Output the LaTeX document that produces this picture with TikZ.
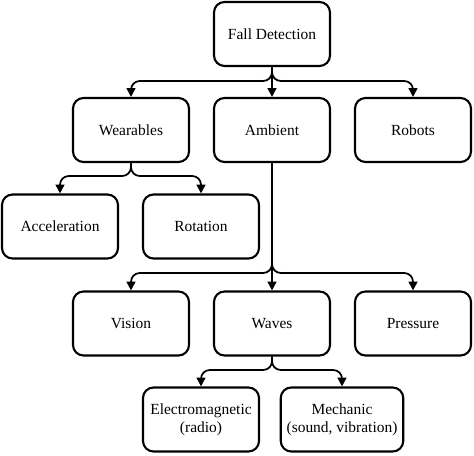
\documentclass[tikz,border=0pt]{standalone}
\usepackage{fontspec}
\setmainfont{Liberation Serif}
\usepackage{tikz}
\usetikzlibrary{arrows.meta}
\tikzset{
  box/.style={draw=black, line width=1.2pt, rounded corners=6pt, minimum width=2.32cm,
    minimum height=1.28cm, align=center, font=\fontsize{8.8}{10}\selectfont},
  arr/.style={draw=black, line width=1pt, rounded corners=5pt, -{Triangle[length=5pt,width=5pt]}},
}
\begin{document}
\begin{tikzpicture}
  \useasboundingbox (0,0) rectangle (9.48,9.1);
  % boxes
  \node[box] (fall) at (5.44,8.42) {Fall Detection};
  \node[box] (wear) at (2.62,6.5) {Wearables};
  \node[box] (amb) at (5.44,6.5) {Ambient};
  \node[box] (rob) at (8.26,6.5) {Robots};
  \node[box] (acc) at (1.2,4.57) {Acceleration};
  \node[box] (rot) at (4.02,4.57) {Rotation};
  \node[box] (vis) at (2.62,2.63) {Vision};
  \node[box] (wav) at (5.44,2.63) {Waves};
  \node[box] (pres) at (8.26,2.63) {Pressure};
  \node[box] (elec) at (4.02,0.71) {Electromagnetic\\(radio)};
  \node[box] (mech) at (6.84,0.71) {Mechanic\\(sound, vibration)};
  % branch points
  \coordinate (b1) at (5.44,7.48);
  \coordinate (b2) at (2.62,5.58);
  \coordinate (b3) at (5.44,3.64);
  \coordinate (b4) at (5.44,1.7);
  % connectors
  \draw[arr] (fall.south) -- (b1) -| (wear.north);
  \draw[arr] (fall.south) -- (b1) -| (rob.north);
  \draw[arr] (fall.south) -- (amb.north);
  \draw[arr] (wear.south) -- (b2) -| (acc.north);
  \draw[arr] (wear.south) -- (b2) -| (rot.north);
  \draw[arr] (amb.south) -- (b3) -| (vis.north);
  \draw[arr] (amb.south) -- (b3) -| (pres.north);
  \draw[arr] (amb.south) -- (wav.north);
  \draw[arr] (wav.south) -- (b4) -| (elec.north);
  \draw[arr] (wav.south) -- (b4) -| (mech.north);
\end{tikzpicture}
\end{document}
